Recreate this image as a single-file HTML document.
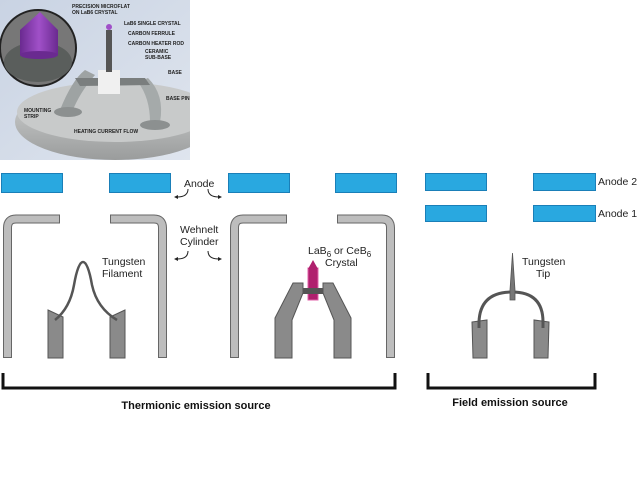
<!DOCTYPE html>
<html><head><meta charset="utf-8"><style>
body{margin:0;background:#fff;width:638px;height:478px;overflow:hidden}
svg{display:block}
text{font-family:"Liberation Sans",Arial,sans-serif}
</style></head><body>
<svg width="638" height="478" viewBox="0 0 638 478">
<defs>
<linearGradient id="bg" x1="0" y1="0" x2="1" y2="1"><stop offset="0" stop-color="#c9d3e3"/><stop offset="1" stop-color="#dfe5ee"/></linearGradient>
<linearGradient id="disc" x1="0" y1="0" x2="0" y2="1"><stop offset="0" stop-color="#d6d8d8"/><stop offset="1" stop-color="#9a9c9c"/></linearGradient>
<linearGradient id="pur" x1="0" y1="0" x2="1" y2="0"><stop offset="0" stop-color="#6a2a90"/><stop offset="0.5" stop-color="#a050c8"/><stop offset="1" stop-color="#6a2a90"/></linearGradient>
<clipPath id="ph"><rect x="0" y="0" width="190" height="160"/></clipPath>
</defs>
<g clip-path="url(#ph)">
<rect x="0" y="0" width="190" height="160" fill="url(#bg)"/>
<ellipse cx="115" cy="122" rx="100" ry="38" fill="url(#disc)"/>
<ellipse cx="115" cy="112" rx="98" ry="30" fill="#c8caca"/>
<path d="M60 110 Q72 80 85 70 L95 75 Q80 92 72 112Z" fill="#9ea3a3"/>
<path d="M148 78 Q165 95 160 122 L150 122 Q150 98 138 82Z" fill="#a5aaaa"/>
<ellipse cx="68" cy="112" rx="14" ry="5" fill="#8c9090"/>
<ellipse cx="155" cy="125" rx="15" ry="5" fill="#8c9090"/>
<path d="M75 78 L145 78 L150 85 L80 86Z" fill="#7a7e7e"/>
<rect x="98" y="70" width="22" height="24" fill="#f0f0f0"/>
<rect x="106" y="30" width="6" height="42" fill="#555"/>
<circle cx="109" cy="27" r="3" fill="#a050c8"/>
<circle cx="38" cy="48" r="38" fill="#777" stroke="#222" stroke-width="2"/>
<ellipse cx="38" cy="62" rx="34" ry="20" fill="#5a5e5c"/>
<path d="M20 30 L40 12 L58 30 L58 55 L20 55Z" fill="url(#pur)"/>
<ellipse cx="39" cy="55" rx="19" ry="4" fill="#6a2a90"/>
<text x="72" y="8" font-size="5" font-weight="bold" fill="#222">PRECISION MICROFLAT</text>
<text x="72" y="14" font-size="5" font-weight="bold" fill="#222">ON LaB6 CRYSTAL</text>
<text x="124" y="25" font-size="5" font-weight="bold" fill="#222">LaB6 SINGLE CRYSTAL</text>
<text x="128" y="35" font-size="5" font-weight="bold" fill="#222">CARBON FERRULE</text>
<text x="128" y="45" font-size="5" font-weight="bold" fill="#222">CARBON HEATER ROD</text>
<text x="145" y="53" font-size="5" font-weight="bold" fill="#222">CERAMIC</text>
<text x="145" y="59" font-size="5" font-weight="bold" fill="#222">SUB-BASE</text>
<text x="168" y="74" font-size="5" font-weight="bold" fill="#222">BASE</text>
<text x="166" y="100" font-size="5" font-weight="bold" fill="#222">BASE PIN</text>
<text x="24" y="112" font-size="5" font-weight="bold" fill="#222">MOUNTING</text>
<text x="24" y="118" font-size="5" font-weight="bold" fill="#222">STRIP</text>
<text x="74" y="133" font-size="5" font-weight="bold" fill="#222">HEATING CURRENT FLOW</text>
</g>

<g fill="#29a8e0" stroke="#1a7fb8" stroke-width="1">
<rect x="1.5" y="173.5" width="61" height="19"/><rect x="109.5" y="173.5" width="61" height="19"/>
<rect x="228.5" y="173.5" width="61" height="19"/><rect x="335.5" y="173.5" width="61" height="19"/>
<rect x="425.5" y="173.5" width="61" height="17"/><rect x="533.5" y="173.5" width="62" height="17"/>
<rect x="425.5" y="205.5" width="61" height="16"/><rect x="533.5" y="205.5" width="62" height="16"/>
</g>
<g font-size="10.5" fill="#222">
<text x="184" y="187">Anode</text>
<text x="598" y="185">Anode 2</text>
<text x="598" y="217">Anode 1</text>
<text x="180" y="233">Wehnelt</text>
<text x="180" y="245">Cylinder</text>
<text x="102" y="265">Tungsten</text>
<text x="102" y="277">Filament</text>
<text x="308" y="254">LaB<tspan font-size="8" dy="3">6</tspan><tspan dy="-3"> or CeB</tspan><tspan font-size="8" dy="3">6</tspan></text>
<text x="325" y="266">Crystal</text>
<text x="522" y="265">Tungsten</text>
<text x="536" y="277">Tip</text>
</g>
<g fill="none" stroke="#222" stroke-width="1">
<path d="M188 189 Q188 197 177 197"/><path d="M208 189 Q208 197 219 197"/>
<path d="M188 251 Q188 259 177 259"/><path d="M208 251 Q208 259 219 259"/>
</g>
<g fill="#222"><path d="M174 197l4-2v4z"/><path d="M222 197l-4-2v4z"/><path d="M174 259l4-2v4z"/><path d="M222 259l-4-2v4z"/></g>
<g fill="none" stroke="#666" stroke-width="9" stroke-linejoin="round">
<path d="M7.5 358 V228 Q7.5 219 16 219 H60"/>
<path d="M162.5 358 V228 Q162.5 219 154 219 H110"/>
<path d="M234.5 358 V228 Q234.5 219 243 219 H287"/>
<path d="M390.5 358 V228 Q390.5 219 382 219 H337"/>
</g>
<g fill="none" stroke="#bdbdbd" stroke-width="7" stroke-linejoin="round">
<path d="M7.5 357 V228 Q7.5 219 16 219 H59"/>
<path d="M162.5 357 V228 Q162.5 219 154 219 H111"/>
<path d="M234.5 357 V228 Q234.5 219 243 219 H286"/>
<path d="M390.5 357 V228 Q390.5 219 382 219 H338"/>
</g>
<g fill="#8a8a8a" stroke="#555" stroke-width="1">
<path d="M48 310 L63 317 V358 H48Z"/><path d="M125 310 L110 317 V358 H125Z"/>
</g>
<path d="M55 320 Q70 308 74 285 Q78 262 83 262 Q88 262 92 285 Q97 308 117 320" fill="none" stroke="#555" stroke-width="2.5"/>
<rect x="308" y="268" width="10" height="32" fill="#b0206e" stroke="#e060a8"/>
<path d="M308 269 L313 260 L318 269Z" fill="#b0206e"/>
<rect x="302" y="288" width="22" height="6" fill="#555"/>
<g fill="#8a8a8a" stroke="#555" stroke-width="1">
<path d="M293 283 H303 V293 L292 320 V358 H275 V318Z"/>
<path d="M333 283 H323 V293 L334 320 V358 H351 V318Z"/>
</g>
<g fill="#8a8a8a" stroke="#555" stroke-width="1">
<path d="M472 322 L487 320 V358 H473Z"/><path d="M549 322 L534 320 V358 H548Z"/>
</g>
<path d="M479 328 V322 Q480 292 512 292 Q543 292 543 322 V328" fill="none" stroke="#555" stroke-width="3"/>
<path d="M510 300 H515 V290 L512.5 253 L510 290Z" fill="#777" stroke="#555" stroke-width="0.8"/>
<g fill="none" stroke="#111" stroke-width="3">
<path d="M3 373 V388 H395 V373"/>
<path d="M428 373 V388 H595 V373"/>
</g>
<text x="196" y="409" font-size="11" font-weight="bold" text-anchor="middle" fill="#111">Thermionic emission source</text>
<text x="510" y="406" font-size="11" font-weight="bold" text-anchor="middle" fill="#111">Field emission source</text>
</svg>
</body></html>
